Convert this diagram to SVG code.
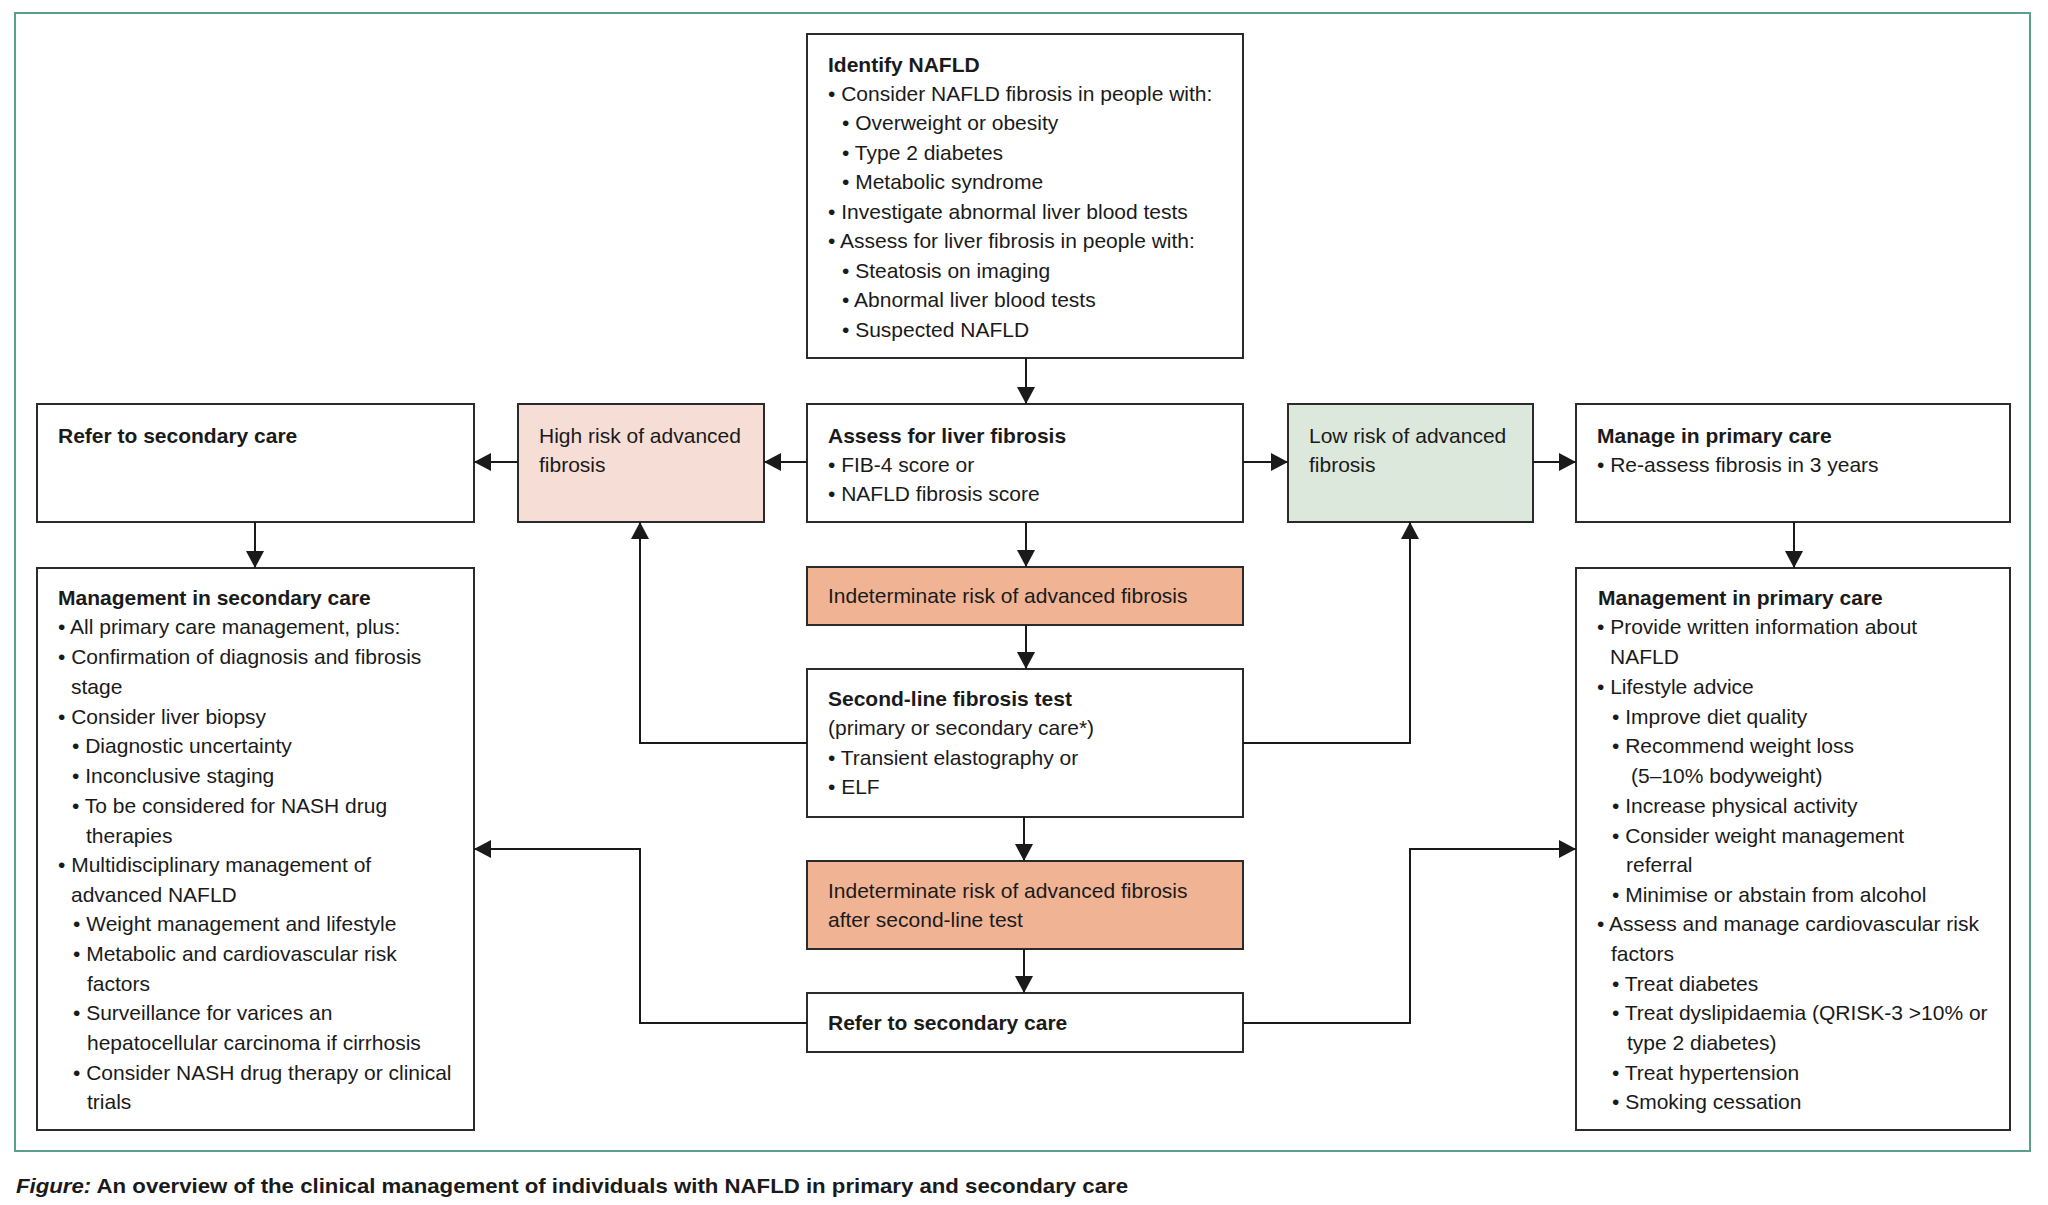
<svg xmlns="http://www.w3.org/2000/svg" width="2048" height="1205" viewBox="0 0 2048 1205">
<style>
.box{fill:#ffffff;stroke:#2b2b2b;stroke-width:2}
.pink{fill:#f6ded6}
.green{fill:#dce8dc}
.salmon{fill:#f0b394}
text{font-family:"Liberation Sans",Arial,sans-serif;font-size:21px;fill:#1a1a1a}
.b{font-weight:bold}
.ln{fill:none;stroke:#1a1a1a;stroke-width:2}
</style>
<defs>
<marker id="ah" markerUnits="userSpaceOnUse" markerWidth="17" markerHeight="18" refX="17" refY="9" orient="auto">
<path d="M0,0 L17,9 L0,18 z" fill="#1a1a1a"/>
</marker>
</defs>
<rect x="0" y="0" width="2048" height="1205" fill="#ffffff"/>
<rect x="15" y="13" width="2015" height="1138" fill="none" stroke="#5c9e8c" stroke-width="2"/>

<g id="identify">
<rect class="box" x="807" y="34" width="436" height="324"/>
<text class="b" x="828" y="72">Identify NAFLD</text>
<text x="828" y="101">• Consider NAFLD fibrosis in people with:</text>
<text x="842" y="130">• Overweight or obesity</text>
<text x="842" y="160">• Type 2 diabetes</text>
<text x="842" y="189">• Metabolic syndrome</text>
<text x="828" y="219">• Investigate abnormal liver blood tests</text>
<text x="828" y="248">• Assess for liver fibrosis in people with:</text>
<text x="842" y="278">• Steatosis on imaging</text>
<text x="842" y="307">• Abnormal liver blood tests</text>
<text x="842" y="337">• Suspected NAFLD</text>
</g>

<g id="refer-left">
<rect class="box" x="37" y="404" width="437" height="118"/>
<text class="b" x="58" y="443">Refer to secondary care</text>
</g>

<g id="high-risk">
<rect class="box pink" x="518" y="404" width="246" height="118"/>
<text x="539" y="443">High risk of advanced</text>
<text x="539" y="472">fibrosis</text>
</g>

<g id="assess">
<rect class="box" x="807" y="404" width="436" height="118"/>
<text class="b" x="828" y="443">Assess for liver fibrosis</text>
<text x="828" y="472">• FIB-4 score or</text>
<text x="828" y="501">• NAFLD fibrosis score</text>
</g>

<g id="low-risk">
<rect class="box green" x="1288" y="404" width="245" height="118"/>
<text x="1309" y="443">Low risk of advanced</text>
<text x="1309" y="472">fibrosis</text>
</g>

<g id="manage-primary">
<rect class="box" x="1576" y="404" width="434" height="118"/>
<text class="b" x="1597" y="443">Manage in primary care</text>
<text x="1597" y="472">• Re-assess fibrosis in 3 years</text>
</g>

<g id="indeterminate1">
<rect class="box salmon" x="807" y="567" width="436" height="58"/>
<text x="828" y="603">Indeterminate risk of advanced fibrosis</text>
</g>

<g id="second-line">
<rect class="box" x="807" y="669" width="436" height="148"/>
<text class="b" x="828" y="706">Second-line fibrosis test</text>
<text x="828" y="735">(primary or secondary care*)</text>
<text x="828" y="765">• Transient elastography or</text>
<text x="828" y="794">• ELF</text>
</g>

<g id="indeterminate2">
<rect class="box salmon" x="807" y="861" width="436" height="88"/>
<text x="828" y="898">Indeterminate risk of advanced fibrosis</text>
<text x="828" y="927">after second-line test</text>
</g>

<g id="refer-center">
<rect class="box" x="807" y="993" width="436" height="59"/>
<text class="b" x="828" y="1030">Refer to secondary care</text>
</g>

<g id="mgmt-secondary">
<rect class="box" x="37" y="568" width="437" height="562"/>
<text class="b" x="58" y="605">Management in secondary care</text>
<text x="58" y="634">• All primary care management, plus:</text>
<text x="58" y="664">• Confirmation of diagnosis and fibrosis</text>
<text x="71" y="694">stage</text>
<text x="58" y="724">• Consider liver biopsy</text>
<text x="72" y="753">• Diagnostic uncertainty</text>
<text x="72" y="783">• Inconclusive staging</text>
<text x="72" y="813">• To be considered for NASH drug</text>
<text x="86" y="843">therapies</text>
<text x="58" y="872">• Multidisciplinary management of</text>
<text x="71" y="902">advanced NAFLD</text>
<text x="73" y="931">• Weight management and lifestyle</text>
<text x="73" y="961">• Metabolic and cardiovascular risk</text>
<text x="87" y="991">factors</text>
<text x="73" y="1020">• Surveillance for varices an</text>
<text x="87" y="1050">hepatocellular carcinoma if cirrhosis</text>
<text x="73" y="1080">• Consider NASH drug therapy or clinical</text>
<text x="87" y="1109">trials</text>
</g>

<g id="mgmt-primary">
<rect class="box" x="1576" y="568" width="434" height="562"/>
<text class="b" x="1598" y="605">Management in primary care</text>
<text x="1597" y="634">• Provide written information about</text>
<text x="1610" y="664">NAFLD</text>
<text x="1597" y="694">• Lifestyle advice</text>
<text x="1612" y="724">• Improve diet quality</text>
<text x="1612" y="753">• Recommend weight loss</text>
<text x="1631" y="783">(5–10% bodyweight)</text>
<text x="1612" y="813">• Increase physical activity</text>
<text x="1612" y="843">• Consider weight management</text>
<text x="1626" y="872">referral</text>
<text x="1612" y="902">• Minimise or abstain from alcohol</text>
<text x="1597" y="931">• Assess and manage cardiovascular risk</text>
<text x="1611" y="961">factors</text>
<text x="1612" y="991">• Treat diabetes</text>
<text x="1612" y="1020">• Treat dyslipidaemia (QRISK-3 &gt;10% or</text>
<text x="1627" y="1050">type 2 diabetes)</text>
<text x="1612" y="1080">• Treat hypertension</text>
<text x="1612" y="1109">• Smoking cessation</text>
</g>

<g id="connectors">
<path class="ln" d="M1026,358 V404" marker-end="url(#ah)"/>
<path class="ln" d="M807,462 H764" marker-end="url(#ah)"/>
<path class="ln" d="M518,462 H474" marker-end="url(#ah)"/>
<path class="ln" d="M1243,462 H1288" marker-end="url(#ah)"/>
<path class="ln" d="M1533,462 H1576" marker-end="url(#ah)"/>
<path class="ln" d="M255,522 V568" marker-end="url(#ah)"/>
<path class="ln" d="M1794,522 V568" marker-end="url(#ah)"/>
<path class="ln" d="M1026,522 V567" marker-end="url(#ah)"/>
<path class="ln" d="M1026,625 V669" marker-end="url(#ah)"/>
<path class="ln" d="M1024,817 V861" marker-end="url(#ah)"/>
<path class="ln" d="M1024,949 V993" marker-end="url(#ah)"/>
<path class="ln" d="M807,743 H640 V522" marker-end="url(#ah)"/>
<path class="ln" d="M1243,743 H1410 V522" marker-end="url(#ah)"/>
<path class="ln" d="M807,1023 H640 V849 H474" marker-end="url(#ah)"/>
<path class="ln" d="M1243,1023 H1410 V849 H1576" marker-end="url(#ah)"/>
</g>

<text class="b" x="16" y="1193" font-size="22" textLength="1112" lengthAdjust="spacingAndGlyphs"><tspan font-style="italic">Figure:</tspan> An overview of the clinical management of individuals with NAFLD in primary and secondary care</text>
</svg>
